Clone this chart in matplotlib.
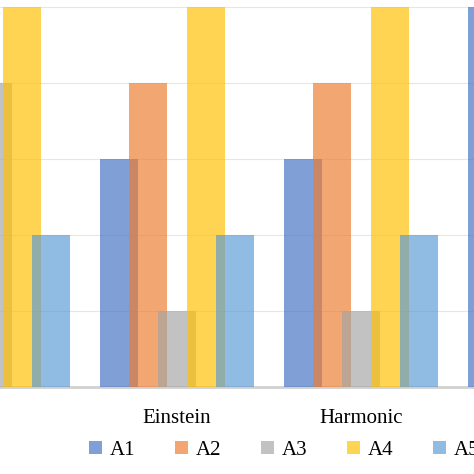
import matplotlib
matplotlib.use("Agg")
import matplotlib.pyplot as plt
import numpy as np

categories = ["Dombi", "Einstein", "Harmonic", "Hamacher"]
series = ["A1", "A2", "A3", "A4", "A5"]
values = {
    "A1": [3, 3, 3, 5],
    "A2": [4, 4, 4, 4],
    "A3": [4, 1, 1, 1],
    "A4": [5, 5, 5, 5],
    "A5": [2, 2, 2, 2],
}
colors = ["#4472C4", "#ED7D31", "#A5A5A5", "#FFC000", "#5B9BD5"]

plt.rcParams["font.family"] = ["Liberation Serif", "DejaVu Serif"]
fig = plt.figure(figsize=(4.74, 4.74), dpi=100)
ax = fig.add_axes([0, 1 - 387 / 474, 1, 387 / 474])
x = np.arange(len(categories))
w = 0.2065
step = 0.158
for i, s in enumerate(series):
    ax.bar(x + (i - 2) * step, values[s], width=w, color=colors[i], alpha=0.68,
           label=s, zorder=3)
ax.set_yticks([1, 2, 3, 4, 5])
ax.yaxis.grid(True, color="#e6e6e6", lw=0.8, zorder=0)
ax.tick_params(left=False, labelleft=False, bottom=False)
for sp in ["top", "right", "left"]:
    ax.spines[sp].set_visible(False)
ax.spines["bottom"].set_color("#d0d0d0")
ax.spines["bottom"].set_linewidth(2)
ax.set_xticks(x)
ax.set_xticklabels(categories, fontsize=15)
ax.tick_params(axis="x", pad=12)
ax.set_xlim(0.038, 2.614)
ax.set_ylim(0, 387 / 76)
fig.legend(loc="lower center", bbox_to_anchor=(0.6, -0.01), ncol=5, frameon=False,
           fontsize=15, handlelength=0.6, handleheight=0.6, columnspacing=1.9,
           handletextpad=0.4)
fig.savefig("out.png", dpi=100)
